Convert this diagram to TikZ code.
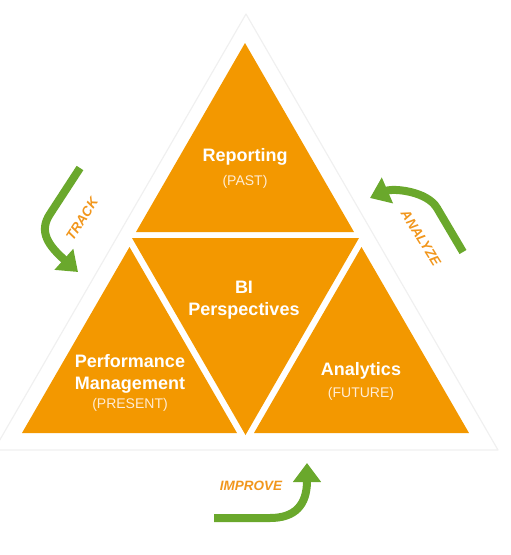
\documentclass[tikz,border=0pt]{standalone}
\usepackage{fontspec}
\setmainfont{Liberation Sans}
\usepackage{tikz}
\usetikzlibrary{arrows.meta}
\definecolor{biorange}{RGB}{243,152,0}
\definecolor{bilabel}{RGB}{241,150,28}
\definecolor{bigreen}{RGB}{106,168,44}
\definecolor{bisub}{RGB}{255,236,212}
\tikzset{%
  tipG/.tip={Triangle[length=19pt,width=27pt]},
  piece/.style={fill=biorange, draw=none},
  title/.style={text=white, font=\fontsize{18}{22}\selectfont\bfseries, align=center, inner sep=0pt},
  sub/.style={text=bisub, font=\fontsize{14}{16}\selectfont, inner sep=0pt},
  cycleword/.style={text=bilabel, font=\fontsize{13.5}{15}\selectfont\bfseries\itshape, inner sep=0pt},
  cyclearrow/.style={draw=bigreen, line width=8pt, -tipG}
}

\begin{document}
\begin{tikzpicture}[x=1pt,y=-1pt]
\useasboundingbox (0,0) rectangle (511,555);
% outer frame
\draw[gray!12, line width=1.2pt, line join=round] (246,14) -- (-6,450) -- (498,450) -- cycle;
% the four pieces
\fill[piece] (245,43) -- (136,232) -- (354,232) -- cycle;
\fill[piece] (132,238) -- (359,238) -- (245.5,435) -- cycle;
\fill[piece] (129.5,247) -- (22,433) -- (237,433) -- cycle;
\fill[piece] (361.5,247) -- (254,433) -- (469,433) -- cycle;
% texts
\node[title] (rep) at (245,157) {Reporting};
\node[sub] (repsub) at (245,182) {(PAST)};
\node[title] (bi) at (244,300) {BI\\Perspectives};
\node[title] (perf) at (130,374) {Performance\\Management};
\node[sub] (perfsub) at (130,405) {(PRESENT)};
\node[title] (ana) at (361,371) {Analytics};
\node[sub] (anasub) at (361,394) {(FUTURE)};
% arrows round the pyramid
\coordinate (tracktail) at (80,168);
\coordinate (tracktip) at (78,272);
\draw[cyclearrow] (tracktail) -- (50,214) .. controls (38,232) and (49,246) .. (tracktip);
\node[cycleword, rotate=57] (track) at (82,219) {TRACK};
\coordinate (anatail) at (463,252);
\coordinate (anatip) at (370,198);
\draw[cyclearrow] (anatail) -- (437,208) .. controls (427,191) and (393,188) .. (anatip);
\node[cycleword, rotate=-58] (analyze) at (421,238) {ANALYZE};
\coordinate (imptail) at (214,518);
\coordinate (imptip) at (307,463);
\draw[cyclearrow] (imptail) -- (270,518) .. controls (295,518) and (307,505) .. (imptip);
\node[cycleword] (improve) at (251,486) {IMPROVE};
\end{tikzpicture}
\end{document}
